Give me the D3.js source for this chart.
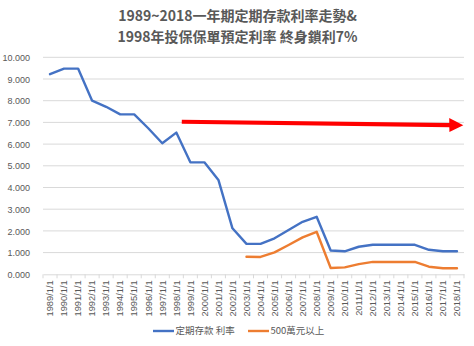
<!DOCTYPE html>
<html>
<head>
<meta charset="utf-8">
<script src="https://cdn.jsdelivr.net/npm/d3@7"></script>
<style>
  html, body { margin: 0; padding: 0; background: #fff; }
  svg { display: block; font-family: "Liberation Sans", Arial, "Noto Sans CJK TC", sans-serif; }
</style>
</head>
<body>
<svg id="chart" width="474" height="346"></svg>
<script>
const years = d3.range(1989, 2019).map(String);
const categoryLabels = years.map(y => y + "/1/1");
const depositRate = [9.22, 9.48, 9.48, 8.00, 7.72, 7.37, 7.37, 6.73, 6.04, 6.53,
                     5.16, 5.16, 4.35, 2.12, 1.40, 1.40, 1.66, 2.04, 2.42, 2.65,
                     1.10, 1.06, 1.27, 1.36, 1.36, 1.36, 1.36, 1.13, 1.06, 1.06];
const over5M = [null, null, null, null, null, null, null, null, null, null,
                null, null, null, null, 0.81, 0.80, 1.01, 1.35, 1.70, 1.96,
                0.29, 0.32, 0.47, 0.57, 0.57, 0.57, 0.57, 0.35, 0.28, 0.28];
const yTicks = [0, 1, 2, 3, 4, 5, 6, 7, 8, 9, 10];
const seriesNames = ["定期存款 利率", "500萬元以上"];
const seriesColors = ["#4472C4", "#ED7D31"];
const titleLines = ["1989~2018一年期定期存款利率走勢&", "1998年投保保單預定利率 終身鎖利7%"];
// red annotation arrow: from just after 1998 at ~7%, to the right edge
const arrowStartYear = "1998", arrowStartValue = 7.03, arrowEndValue = 6.87;

const svg = d3.select("#chart");
const plotLeft = 43, plotRight = 464, plotTop = 57.3, plotBottom = 274.3;

const x = d3.scaleBand().domain(years).range([plotLeft, plotRight]);
const y = d3.scaleLinear().domain([0, 10]).range([plotBottom, plotTop]);
const cx = yr => x(yr) + x.bandwidth() / 2;

// title
const title = svg.append("g").attr("font-family", "'Noto Sans CJK TC', 'Noto Sans', sans-serif")
  .attr("font-weight", "bold").attr("font-size", 14).attr("fill", "#595959").attr("text-anchor", "middle");
titleLines.forEach((t, i) => {
  title.append("text").attr("x", 237.5).attr("y", 21 + i * 20.5).text(t);
});

// gridlines
svg.append("g").selectAll("line").data(yTicks.filter(d => d > 0)).join("line")
  .attr("x1", plotLeft).attr("x2", plotRight)
  .attr("y1", d => y(d)).attr("y2", d => y(d))
  .attr("stroke", "#d9d9d9").attr("stroke-width", 1);

// y axis labels
const yAxis = svg.append("g").attr("transform", `translate(${plotLeft - 10},0)`)
  .call(d3.axisLeft(y).tickValues(yTicks).tickFormat(d3.format(".3f")).tickSize(0));
yAxis.select(".domain").remove();
yAxis.selectAll("text").attr("font-size", 9).attr("fill", "#595959").attr("dx", 0).attr("dy", "0.35em");

// x axis
const xAxis = svg.append("g").attr("transform", `translate(0,${plotBottom})`)
  .call(d3.axisBottom(x).tickFormat((d, i) => categoryLabels[i]).tickSize(0));
xAxis.select(".domain").attr("stroke", "#d9d9d9");
xAxis.selectAll("text")
  .attr("font-size", 9.3).attr("fill", "#595959")
  .attr("transform", "rotate(-90)")
  .attr("text-anchor", "end")
  .attr("x", -6).attr("y", 0).attr("dy", "0.35em");
// tick marks at category boundaries
svg.append("g").selectAll("line").data(years.concat(["end"])).join("line")
  .attr("x1", (d, i) => plotLeft + i * x.step()).attr("x2", (d, i) => plotLeft + i * x.step())
  .attr("y1", plotBottom).attr("y2", plotBottom + 4)
  .attr("stroke", "#d9d9d9");

// lines
const lineGen = d3.line()
  .defined(d => d.v !== null)
  .x(d => cx(d.yr)).y(d => y(d.v));
[depositRate, over5M].forEach((arr, si) => {
  svg.append("path")
    .datum(arr.map((v, i) => ({ yr: years[i], v })))
    .attr("fill", "none").attr("stroke", seriesColors[si])
    .attr("stroke-width", 2.4).attr("stroke-linejoin", "round").attr("stroke-linecap", "round")
    .attr("d", lineGen);
});

// red arrow
const ax0 = cx(arrowStartYear) + x.bandwidth() * 0.39;
const ay0 = y(arrowStartValue);
const tipX = plotRight - 0.7, tipY = y(arrowEndValue);
const headLen = 14, headHalf = 7;
const ang = Math.atan2(tipY - ay0, tipX - ax0);
const bx = tipX - headLen * Math.cos(ang), by = tipY - headLen * Math.sin(ang);
svg.append("line")
  .attr("x1", ax0).attr("y1", ay0).attr("x2", bx + 1).attr("y2", by)
  .attr("stroke", "#ff0000").attr("stroke-width", 4.2);
svg.append("path")
  .attr("d", `M${tipX},${tipY} L${bx - headHalf * Math.sin(ang)},${by - headHalf} L${bx + headHalf * Math.sin(ang)},${by + headHalf} Z`)
  .attr("fill", "#ff0000");

// legend
const legend = svg.append("g").attr("font-size", 9.5).attr("fill", "#595959")
  .attr("font-family", "'Noto Sans CJK TC', 'Noto Sans', sans-serif");
const legendX = [153, 248];
seriesNames.forEach((name, i) => {
  legend.append("line").attr("x1", legendX[i]).attr("x2", legendX[i] + 21)
    .attr("y1", 331).attr("y2", 331)
    .attr("stroke", seriesColors[i]).attr("stroke-width", 2.4);
  legend.append("text").attr("x", legendX[i] + 22.5).attr("y", 331).attr("dy", "0.35em")
    .text(name);
});
</script>
</body>
</html>
